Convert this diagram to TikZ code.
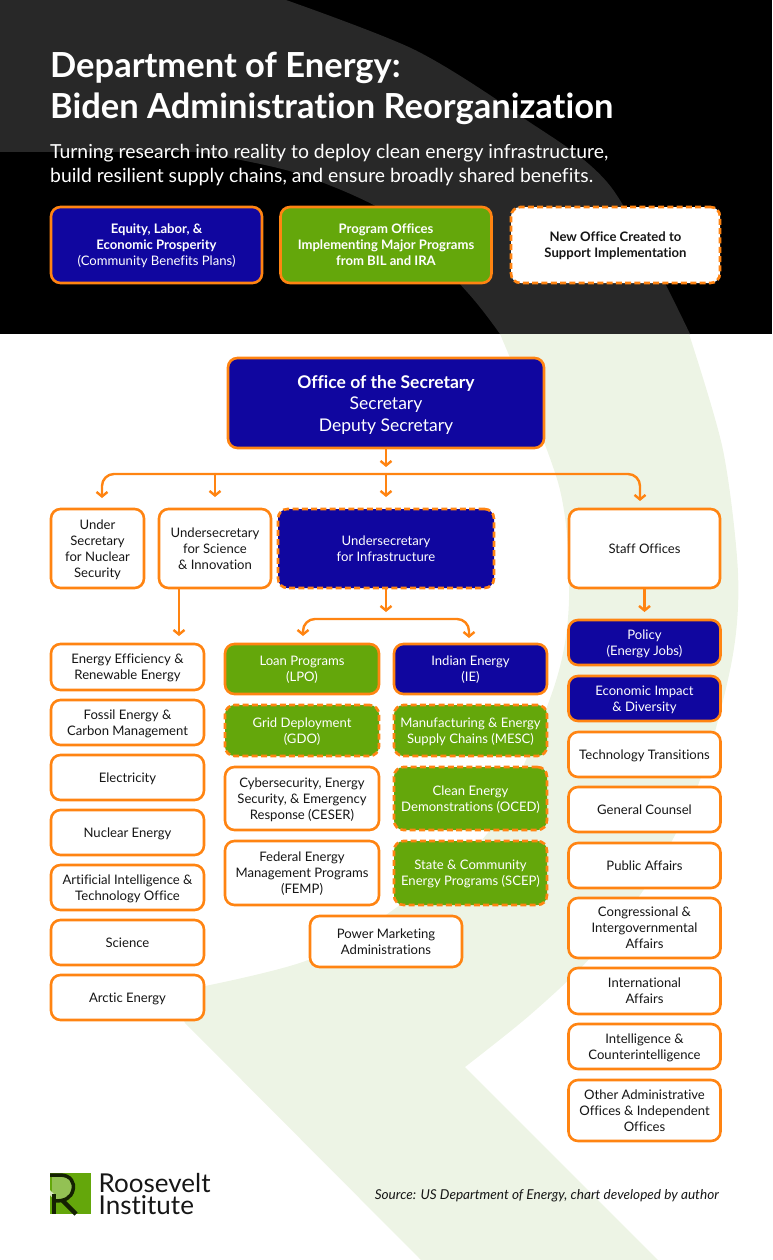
\documentclass[tikz,border=0pt]{standalone}
\usepackage{fontspec}
\setmainfont{Lato}[Ligatures=NoCommon]
\usetikzlibrary{arrows.meta}
\definecolor{navyfill}{HTML}{10069F}
\definecolor{greenfill}{HTML}{64A70B}
\definecolor{edgeorange}{HTML}{FF8412}
\definecolor{paleleaf}{HTML}{EDF4E5}
\definecolor{darkleaf}{HTML}{282828}
\definecolor{inktext}{HTML}{161616}
\tikzset{
  boxsize/.style 2 args={minimum width=#1pt,minimum height=#2pt},
  office/.style={draw=edgeorange,line width=2.6pt,rounded corners=9.5pt,inner sep=0pt,align=center,
    font=\fontsize{13.1}{16}\selectfont,text depth=-3pt},
  plainbox/.style={office,fill=white,text=inktext},
  navybox/.style={office,fill=navyfill,text=white},
  greenbox/.style={office,fill=greenfill,text=white},
  newoffice/.style={dash pattern=on 6pt off 3.3pt},
  link/.style={draw=edgeorange,line width=2.4pt,line cap=round,-{Straight Barb[length=4.5pt,width=11pt]}},
  twolink/.style={link,{Straight Barb[length=4.5pt,width=11pt]}-{Straight Barb[length=4.5pt,width=11pt]},rounded corners=12pt},
}
\begin{document}
\begin{tikzpicture}[x=1pt,y=-1pt]
\useasboundingbox (0,0) rectangle (772,1260);

% background
\fill [black] (0,0) rectangle (772,334);
\fill [darkleaf] (0,0) -- plot [smooth] coordinates {(286,0) (415,50) (522,117) (611,187) (690,334)}
  -- plot [smooth] coordinates {(500,334) (468,293) (394,217) (296,173) (197,152)} -- (0,152) -- cycle;
\fill [paleleaf] plot [smooth] coordinates {(689,334) (723,450) (738,573) (732,660) (700,780) (650,880) (590,958) (530,1015) (465,1067)}
  -- (658,1260) -- (421,1260) -- (185,1023) -- (170,990)
  -- plot [smooth] coordinates {(205,986) (308,960) (393,910) (490,830) (553,690) (569,600) (559,486) (500,334)} -- cycle;

% heading
\node [anchor=west,text=white,align=left,inner sep=0pt,font=\fontsize{34.5}{41}\selectfont\bfseries] (title) at (50,88)
  {Department of Energy:\\Biden Administration Reorganization};
\node [anchor=west,text=white,align=left,inner sep=0pt,font=\fontsize{19.35}{24}\selectfont] (subtitle) at (50,165.5)
  {Turning research into reality to deploy clean energy infrastructure,\\build resilient supply chains, and ensure broadly shared benefits.};

% legend
\node [navybox,boxsize={211}{76}] (keyequity) at (156.5,245) {\textbf{Equity, Labor, \&}\\\textbf{Economic Prosperity}\\(Community Benefits Plans)};
\node [greenbox,boxsize={211}{76}] (keyprogram) at (386,245) {\textbf{Program Offices}\\\textbf{Implementing Major Programs}\\\textbf{from BIL and IRA}};
\node [plainbox,newoffice,boxsize={209}{76}] (keynew) at (615.5,245) {\textbf{New Office Created to}\\\textbf{Support Implementation}};

% top of the chart
\node [navybox,boxsize={316}{90},font=\fontsize{17.5}{21.5}\selectfont] (secretary) at (386,403) {\textbf{Office of the Secretary}\\Secretary\\Deputy Secretary};

\node [plainbox,boxsize={93}{79}] (nuclearsec) at (97.5,548.5) {Under\\Secretary\\for Nuclear\\Security};
\node [plainbox,boxsize={112}{79}] (science) at (215,548.5) {Undersecretary\\for Science\\\& Innovation};
\node [navybox,newoffice,boxsize={216}{79}] (infra) at (386,548.5) {Undersecretary\\for Infrastructure};
\node [plainbox,boxsize={151}{79}] (staff) at (644.5,548.5) {Staff Offices};

% left column
\node [plainbox,boxsize={153}{46}] (efficiency) at (127.5,667) {Energy Efficiency \&\\Renewable Energy};
\node [plainbox,boxsize={153}{45}] (fossil) at (127.5,722.5) {Fossil Energy \&\\Carbon Management};
\node [plainbox,boxsize={153}{45}] (electricity) at (127.5,777.5) {Electricity};
\node [plainbox,boxsize={153}{45}] (nuclear) at (127.5,832.5) {Nuclear Energy};
\node [plainbox,boxsize={153}{45}] (aioffice) at (127.5,887.5) {Artificial Intelligence \&\\Technology Office};
\node [plainbox,boxsize={153}{45}] (sciencelab) at (127.5,942.5) {Science};
\node [plainbox,boxsize={153}{45}] (arctic) at (127.5,997.5) {Arctic Energy};

% middle columns
\node [greenbox,boxsize={154}{50}] (loan) at (302,669) {Loan Programs\\(LPO)};
\node [greenbox,newoffice,boxsize={154}{51}] (grid) at (302,730.5) {Grid Deployment\\(GDO)};
\node [plainbox,boxsize={154}{63}] (ceser) at (302,798.5) {Cybersecurity, Energy\\Security, \& Emergency\\Response (CESER)};
\node [plainbox,boxsize={154}{64}] (femp) at (302,873) {Federal Energy\\Management Programs\\(FEMP)};
\node [navybox,boxsize={153}{50}] (indian) at (470.5,669) {Indian Energy\\(IE)};
\node [greenbox,newoffice,boxsize={153}{51}] (mesc) at (470.5,730.5) {Manufacturing \& Energy\\Supply Chains (MESC)};
\node [greenbox,newoffice,boxsize={153}{63}] (oced) at (470.5,798.5) {Clean Energy\\Demonstrations (OCED)};
\node [greenbox,newoffice,boxsize={153}{64}] (scep) at (470.5,873) {State \& Community\\Energy Programs (SCEP)};
\node [plainbox,boxsize={152}{51}] (power) at (386,941.5) {Power Marketing\\Administrations};

% right column
\node [navybox,boxsize={152}{45}] (policy) at (644.5,642.5) {Policy\\(Energy Jobs)};
\node [navybox,boxsize={152}{45}] (impact) at (644.5,698.5) {Economic Impact\\\& Diversity};
\node [plainbox,boxsize={152}{45}] (transitions) at (644.5,754.5) {Technology Transitions};
\node [plainbox,boxsize={152}{45}] (counsel) at (644.5,809.5) {General Counsel};
\node [plainbox,boxsize={152}{45}] (affairs) at (644.5,865.5) {Public Affairs};
\node [plainbox,boxsize={152}{60}] (congress) at (644.5,928) {Congressional \&\\Intergovernmental\\Affairs};
\node [plainbox,boxsize={152}{46}] (international) at (644.5,991) {International\\Affairs};
\node [plainbox,boxsize={152}{45}] (intelligence) at (644.5,1046.5) {Intelligence \&\\Counterintelligence};
\node [plainbox,boxsize={152}{61}] (otheroffices) at (644.5,1110.5) {Other Administrative\\Offices \& Independent\\Offices};

% connectors
\coordinate (secretarytip) at (386,467);
\coordinate (busright) at (640,474);
\coordinate (tipnuclear) at (102,498);
\coordinate (tipscience) at (215,497);
\coordinate (tipinfra) at (386,497);
\coordinate (tipstaff) at (640,501);
\coordinate (tipcolumn) at (179,636);
\coordinate (infratip) at (386,612);
\coordinate (subbusright) at (469,619);
\coordinate (tiploan) at (303,636);
\coordinate (tipindian) at (469,638);
\coordinate (stafftip) at (644.5,612);

\draw [link] (secretary.south) -- (secretarytip);
\draw [twolink] (tipnuclear) |- (busright) -- (tipstaff);
\draw [link] (tipscience |- busright) -- (tipscience);
\draw [link] (tipinfra |- busright) -- (tipinfra);
\draw [link] (science.south -| tipcolumn) -- (tipcolumn);
\draw [link] (infra.south) -- (infratip);
\draw [twolink] (tiploan) |- (subbusright) -- (tipindian);
\draw [link] (staff.south) -- (stafftip);

% logo and source
\fill [greenfill] (50,1173) rectangle (91,1214);
\fill [greenfill!70!white] (52,1175) -- (62,1175) .. controls (72,1175) and (76,1182) .. (73,1191) .. controls (71,1199) and (64,1202) .. (58,1202) -- (52,1202) -- cycle;
\fill [white!75!greenfill] (50,1190) -- (56,1196) -- (56,1202) -- (50,1195) -- cycle;
\draw [black!80!greenfill,line width=3.5pt] (50,1175) -- (60,1175) .. controls (71,1175) and (75,1183) .. (73,1190) .. controls (71,1198) and (65,1201) .. (55,1201);
\draw [black!80!greenfill,line width=4.5pt] (54,1194) -- (54,1214);
\draw [black!80!greenfill,line width=4.5pt] (62,1200) -- (76,1214);
\node [anchor=west,text=inktext,align=left,inner sep=0pt,font=\fontsize{26}{22}\selectfont] (logotext) at (98.5,1194) {Roosevelt\\Institute};
\node [anchor=east,text=inktext,inner sep=0pt,font=\fontsize{13.6}{15}\selectfont\itshape] (source) at (719,1196) {Source: US Department of Energy, chart developed by author};
\end{tikzpicture}
\end{document}
